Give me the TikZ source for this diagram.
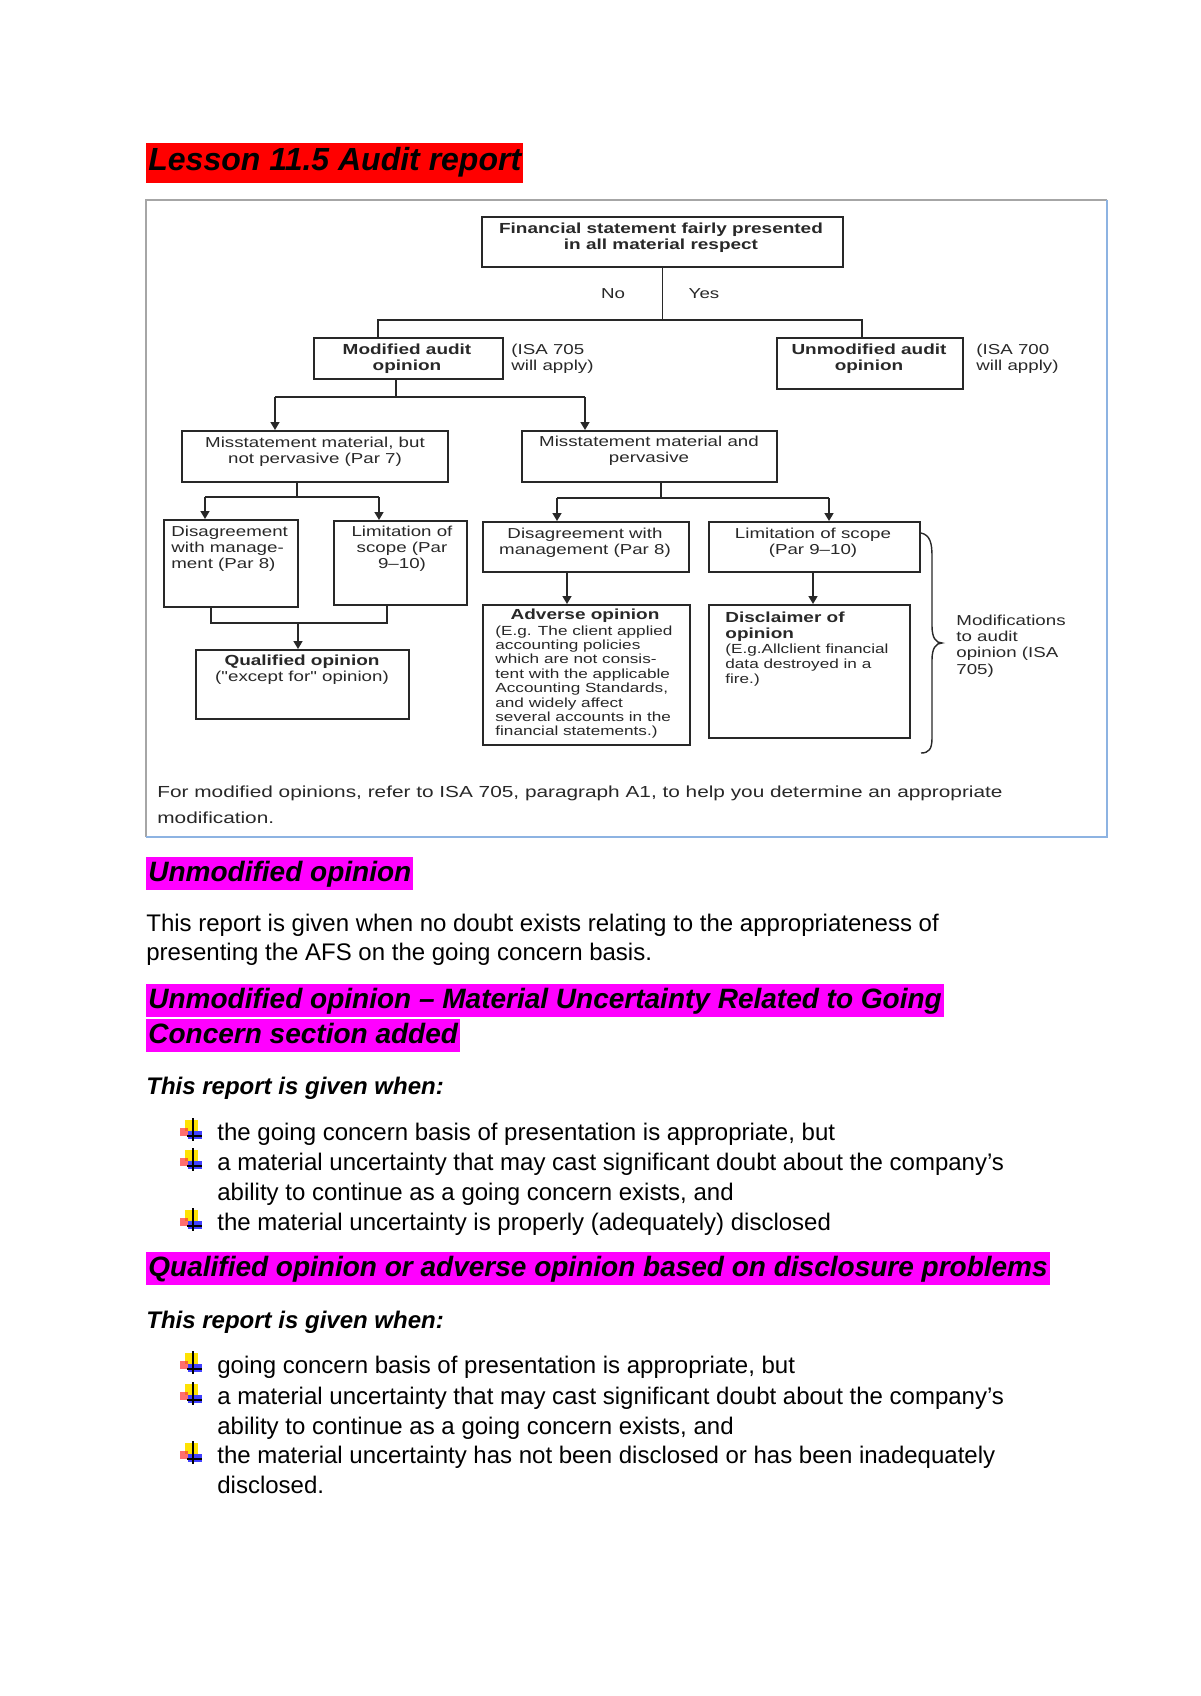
\documentclass[tikz,border=0pt]{standalone}
\usepackage{fontspec}
\setmainfont{Liberation Sans}
\newfontfamily\dfont[FakeStretch=1.3]{Liberation Sans}
\usetikzlibrary{arrows.meta}
\definecolor{hlmag}{RGB}{255,0,255}
\definecolor{hlred}{RGB}{255,0,0}
\definecolor{framblue}{RGB}{141,179,226}
\definecolor{ink}{RGB}{40,40,40}
\newcommand\mkbox[5]{\node[dbox, anchor=north west, minimum width={(#4-#2)*0.5pt}, minimum height={(#5-#3)*0.5pt}] (#1) at (#2,#3) {};}
\tikzset{
  dbox/.style={draw=ink, line width=0.8pt, inner sep=0pt},
  dtxt/.style={font=\dfont\fontsize{7.2}{8.1}\selectfont, text=ink, inner sep=0pt, align=center},
  dtxtl/.style={dtxt, align=left},
  dbold/.style={font=\dfont\bfseries\fontsize{7.3}{8.1}\selectfont, text=ink, inner sep=0pt, align=center},
  conn/.style={draw=ink, line width=0.8pt},
  arr/.style={conn, -{Triangle[width=4.5pt,length=4pt]}},
  body/.style={font=\fontsize{12}{14}\selectfont, inner sep=0pt, anchor=base west},
  bodyi/.style={font=\bfseries\itshape\fontsize{12}{14}\selectfont, inner sep=0pt, anchor=base west},
  head/.style={font=\bfseries\itshape\fontsize{14}{16}\selectfont, fill=hlmag, inner xsep=1pt, inner ysep=1.5pt, text height=10.5pt, text depth=3pt, anchor=base west},
  bulicon/.pic={
    \fill[yellow!85!orange] (-8,-11) rectangle (5,0);
    \fill[red!80, opacity=0.7] (-13,-3) rectangle (-5,5);
    \fill[blue!75] (-5,0) rectangle (9,8);
    \draw[black, line width=0.9pt] (0,-13) -- (0,10);
    \draw[black, line width=0.9pt] (-6,5) -- (9,5);
  }
}
\begin{document}
\begin{tikzpicture}[x=0.5pt,y=-0.5pt]
\useasboundingbox (0,0) rectangle (1200,1696);
\fill[white] (0,0) rectangle (1200,1696);

% title
\node[font=\bfseries\itshape\fontsize{16}{18}\selectfont, fill=hlred, inner xsep=1pt, inner ysep=2pt, text height=12pt, text depth=4pt, anchor=base west] (title) at (146,171) {Lesson 11.5 Audit report};

% frame
\draw[draw=gray!70, line width=0.6pt] (146,837) -- (146,200) -- (1107,200);
\draw[draw=framblue, line width=1.3pt] (1107,200) -- (1107,837) -- (146,837);

% boxes
\mkbox{T}{481}{216}{842}{266}
\mkbox{M}{313}{337}{502}{378}
\mkbox{U}{776}{337}{962}{388}
\mkbox{A}{181}{430}{447}{481}
\mkbox{B}{521}{430}{776}{481}
\mkbox{C}{163}{519}{297}{606}
\mkbox{D}{333}{520}{466}{604}
\mkbox{Q}{195}{649}{408}{718}
\mkbox{E}{482}{521}{688}{571}
\mkbox{F}{708}{521}{919}{571}
\mkbox{G}{482}{604}{689}{744}
\mkbox{H}{708}{604}{909}{737}

% box texts
\node[dbold] (Tt) at (661,238) {Financial statement fairly presented\\in all material respect};
\node[dbold] (Mt) at (407,359) {Modified audit\\opinion};
\node[dbold] (Ut) at (869,359) {Unmodified audit\\opinion};
\node[dtxtl, anchor=west] (isa5) at (511,359) {(ISA 705\\will apply)};
\node[dtxtl, anchor=west] (isa7) at (976,359) {(ISA 700\\will apply)};
\node[dtxt] (At) at (315,452) {Misstatement material, but\\not pervasive (Par 7)};
\node[dtxt] (Bt) at (649,451) {Misstatement material and\\pervasive};
\node[dtxtl, anchor=west] (Ct) at (171,549) {Disagreement\\with manage-\\ment (Par 8)};
\node[dtxt] (Dt) at (402,549) {Limitation of\\scope (Par\\9–10)};
\node[dbold] (Qt) at (302,662) {Qualified opinion};
\node[dtxt] (Qt2) at (302,678) {("except for" opinion)};
\node[dtxt] (Et) at (585,543) {Disagreement with\\management (Par 8)};
\node[dtxt] (Ft) at (813,543) {Limitation of scope\\(Par 9–10)};
\node[dbold] (Gt) at (585,616) {Adverse opinion};
\node[dtxtl, anchor=west, font=\dfont\fontsize{6.6}{7.2}\selectfont] (Gb) at (495,682) {(E.g. The client applied\\accounting policies\\which are not consis-\\tent with the applicable\\Accounting Standards,\\and widely affect\\several accounts in the\\financial statements.)};
\node[dbold, align=left, anchor=west] (Ht) at (725,627) {Disclaimer of\\opinion};
\node[dtxtl, anchor=west, font=\dfont\fontsize{6.6}{7.5}\selectfont] (Hb) at (725,665) {(E.g.Allclient financial\\data destroyed in a\\fire.)};
\node[dtxtl, anchor=west] (mods) at (956,646) {Modifications\\to audit\\opinion (ISA\\705)};
\node[dtxt] (no) at (613,294) {No};
\node[dtxt] (yes) at (704,294) {Yes};
\node[dtxtl, anchor=west, font=\dfont\fontsize{8}{13}\selectfont] (foot) at (157,805) {For modified opinions, refer to ISA 705, paragraph A1, to help you determine an appropriate\\modification.};

% connectors
\coordinate (jL) at (378,320);
\coordinate (jR) at (862,320);
\draw[conn] (T.south) -- (T.south |- jL);
\draw[conn] (jL |- M.north) -- (jL) -- (jR) -- (jR |- U.north);

\coordinate (mj) at (396,397);
\coordinate (a1) at (275,397);
\coordinate (b1) at (585,397);
\draw[conn] (mj |- M.south) -- (mj);
\draw[conn] (a1) -- (b1);
\draw[arr] (a1) -- (a1 |- A.north);
\draw[arr] (b1) -- (b1 |- B.north);

\coordinate (aj) at (297,497);
\coordinate (c1) at (205,497);
\coordinate (d1) at (379,497);
\draw[conn] (aj |- A.south) -- (aj);
\draw[conn] (c1) -- (d1);
\draw[arr] (c1) -- (c1 |- C.north);
\draw[arr] (d1) -- (d1 |- D.north);

\coordinate (cq) at (211,623);
\coordinate (dq) at (387,623);
\coordinate (qj) at (298,623);
\draw[conn] (cq |- C.south) -- (cq) -- (dq) -- (dq |- D.south);
\draw[arr] (qj) -- (qj |- Q.north);

\coordinate (bj) at (661,498);
\coordinate (e1) at (557,498);
\coordinate (f1) at (829,498);
\draw[conn] (bj |- B.south) -- (bj);
\draw[conn] (e1) -- (f1);
\draw[arr] (e1) -- (e1 |- E.north);
\draw[arr] (f1) -- (f1 |- F.north);

\coordinate (eg) at (567,571);
\coordinate (fh) at (813,571);
\draw[arr] (eg |- E.south) -- (eg |- G.north);
\draw[arr] (fh |- F.south) -- (fh |- H.north);

% brace
\draw[draw=ink, line width=0.7pt] (921,533) .. controls (930,535) and (932,543) .. (932,556) -- (932,626) .. controls (932,638) and (936,643) .. (942,643) .. controls (936,643) and (932,648) .. (932,660) -- (932,738) .. controls (932,749) and (929,753) .. (921,753);

% body text
\node[head] (h1) at (146,881) {Unmodified opinion};
\node[body] (p1) at (146,931) {This report is given when no doubt exists relating to the appropriateness of};
\node[body] (p2) at (146,960) {presenting the AFS on the going concern basis.};
\node[head] (h2a) at (146,1008) {Unmodified opinion – Material Uncertainty Related to Going};
\node[head] (h2b) at (146,1043) {Concern section added};
\node[bodyi] (w1) at (146,1094) {This report is given when:};
\node[body] (l1) at (217,1140) {the going concern basis of presentation is appropriate, but};
\node[body] (l2) at (217,1170) {a material uncertainty that may cast significant doubt about the company’s};
\node[body] (l3) at (217,1200) {ability to continue as a going concern exists, and};
\node[body] (l4) at (217,1230) {the material uncertainty is properly (adequately) disclosed};
\node[head] (h3) at (146,1276) {Qualified opinion or adverse opinion based on disclosure problems};
\node[bodyi] (w2) at (146,1328) {This report is given when:};
\node[body] (k1) at (217,1373) {going concern basis of presentation is appropriate, but};
\node[body] (k2) at (217,1404) {a material uncertainty that may cast significant doubt about the company’s};
\node[body] (k3) at (217,1434) {ability to continue as a going concern exists, and};
\node[body] (k4) at (217,1463) {the material uncertainty has not been disclosed or has been inadequately};
\node[body] (k5) at (217,1493) {disclosed.};

% bullets
\foreach \yy in {1131,1161,1221,1364,1395,1454} {
  \pic at (193,\yy) {bulicon};
}
\end{tikzpicture}
\end{document}
